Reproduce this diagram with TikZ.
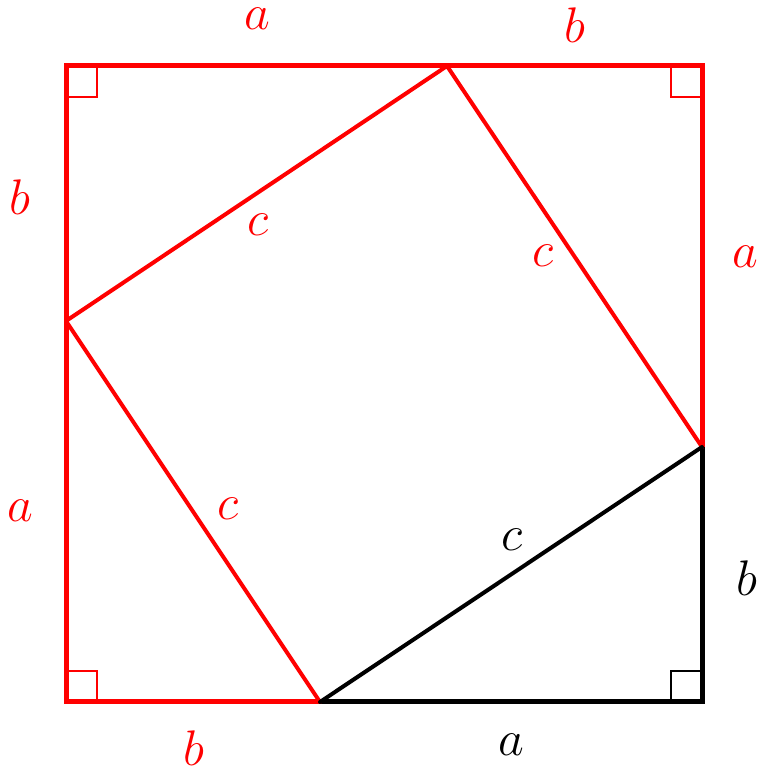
\documentclass[tikz,border=0pt]{standalone}
\usepackage{fix-cm}
\begin{document}
\begin{tikzpicture}[x=1pt,y=1pt,
  outer/.style={line width=5pt,line join=miter},
  hyp/.style={line width=4pt,line cap=round},
  rmark/.style={line width=1.5pt},
  lab/.style={inner sep=0pt,font=\fontsize{50}{60}\selectfont}]
\useasboundingbox (0,0) rectangle (768,777);
% corners and division points
\coordinate (BL) at (66,75);
\coordinate (TL) at (66,711);
\coordinate (TR) at (702,711);
\coordinate (BR) at (702,75);
\coordinate (T) at (447,711);
\coordinate (L) at (66,456);
\coordinate (R) at (702,330);
\coordinate (B) at (320,75);
% outer square
\draw[outer,red] (R) -- (TR) -- (TL) -- (BL) -- (B);
\draw[outer,black] (B) -- (BR) -- (R);
% right angle marks
\draw[rmark,red] ([yshift=-31pt]TL) -| ([xshift=31pt]TL);
\draw[rmark,red] ([yshift=-31pt]TR) -| ([xshift=-31pt]TR);
\draw[rmark,red] ([yshift=31pt]BL) -| ([xshift=31pt]BL);
\draw[rmark,black] ([yshift=31pt]BR) -| ([xshift=-31pt]BR);
% hypotenuses
\draw[hyp,red] (L) -- (T) -- (R);
\draw[hyp,red] (L) -- (B);
\draw[hyp,black] (B) -- (R);
% labels
\node[lab,red] (la1) at (257,758) {$a$};
\node[lab,red] (lb1) at (575,752) {$b$};
\node[lab,red] (lb2) at (20,580) {$b$};
\node[lab,red] (la2) at (20,266) {$a$};
\node[lab,red] (la3) at (745,520) {$a$};
\node[lab,black] (lb3) at (747,199) {$b$};
\node[lab,red] (lb4) at (194,29) {$b$};
\node[lab,black] (la4) at (511,32) {$a$};
\node[lab,red] (lc1) at (258,552) {$c$};
\node[lab,red] (lc2) at (543,521) {$c$};
\node[lab,red] (lc3) at (228,268) {$c$};
\node[lab,black] (lc4) at (512,237) {$c$};
\end{tikzpicture}
\end{document}
